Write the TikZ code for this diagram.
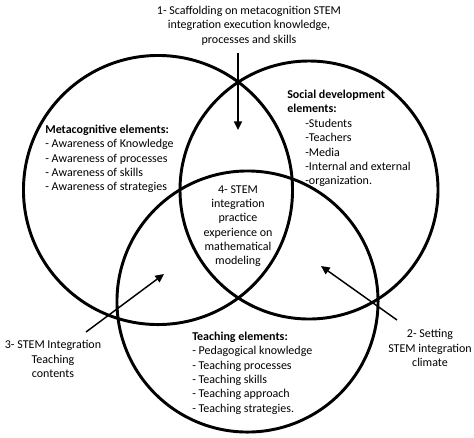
\documentclass[tikz,border=0pt]{standalone}
\usepackage{fontspec}
\setmainfont{Carlito}
\usepackage{tikz}
\usetikzlibrary{shapes}
\usetikzlibrary{arrows.meta}
\tikzstyle{ensemble}=[circle,draw,line width=2.2pt,inner sep=0pt]
\tikzstyle{liste}=[align=left,inner sep=0pt,anchor=north west,font=\fontsize{9}{10.7}\selectfont]
\tikzstyle{etiquette}=[align=center,inner sep=0pt,font=\fontsize{9}{10.7}\selectfont]
\tikzstyle{fleche}=[-{Triangle[length=6.5pt,width=6pt]},line width=1.1pt]

\begin{document}
\begin{tikzpicture}[x=0.75pt,y=-0.75pt]
\useasboundingbox (0,0) rectangle (474,437);
\node[ensemble,minimum size=201.8pt] (meta) at (158,190) {};
\node[ensemble,minimum size=193.5pt] (social) at (309,190) {};
\node[ensemble,minimum size=195.8pt] (teach) at (247.5,301.5) {};
\node[etiquette,anchor=north] (scaf) at (249,6) {1- Scaffolding on metacognition STEM\\integration execution knowledge,\\processes and skills};
\node[liste] (metalist) at (45,125) {\textbf{Metacognitive elements:}\\- Awareness of Knowledge\\- Awareness of processes\\- Awareness of skills\\- Awareness of strategies};
\node[liste] (socialtitle) at (287,90) {\textbf{Social development}\\\textbf{elements:}};
\node[liste] (sociallist) at (305,119) {-Students\\-Teachers\\-Media\\-Internal and external\\-organization.};
\node[etiquette] (practice) at (238,226) {4- STEM\\integration\\practice\\experience on\\mathematical\\modeling};
\node[liste] (teachlist) at (192,332) {\textbf{Teaching elements:}\\- Pedagogical knowledge\\- Teaching processes\\- Teaching skills\\- Teaching approach\\- Teaching strategies.};
\node[etiquette] (contents) at (53,359) {3- STEM Integration\\Teaching\\contents};
\node[etiquette] (climate) at (430,348) {2- Setting\\STEM integration\\climate};
\coordinate (s1) at (238,53);
\coordinate (t1) at (238,130);
\coordinate (s3) at (86,332);
\coordinate (t3) at (164,274);
\coordinate (s2) at (397,320);
\coordinate (t2) at (321,266);
%Drawing Edges
\draw[fleche] (s1) -- (t1);
\draw[fleche] (s3) -- (t3);
\draw[fleche] (s2) -- (t2);
\end{tikzpicture}
\end{document}
